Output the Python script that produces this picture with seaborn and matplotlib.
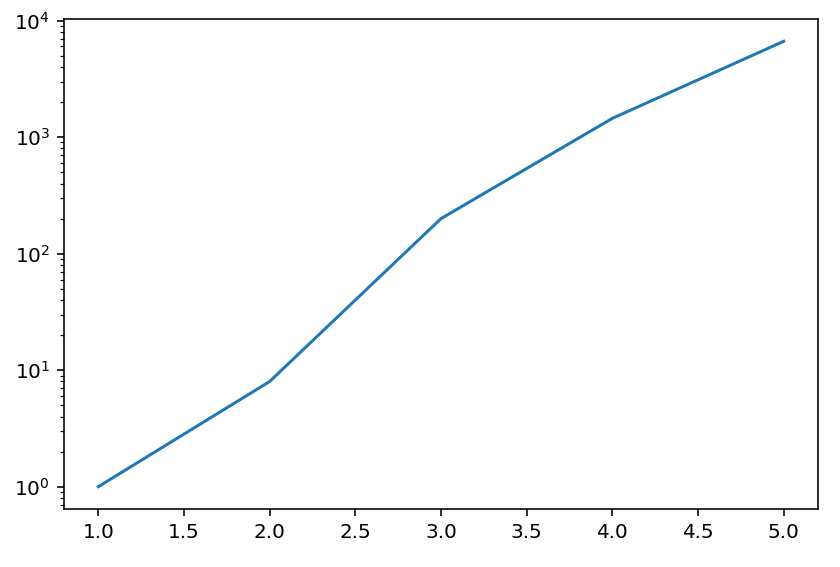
import matplotlib
matplotlib.use("Agg")
import matplotlib.pyplot as plt
import seaborn as sns
import pandas as pd

x_vals = [1, 2, 3, 4, 5]
y_vals = [1, 8, 200, 1450, 6650]

df = pd.DataFrame({"x": x_vals, "y": y_vals})

fig = plt.figure(figsize=(840 / 144, 567 / 144), dpi=144)
ax = fig.add_axes([64 / 840, 1 - 509 / 567, (818 - 64) / 840, (509 - 19) / 567])

sns.lineplot(data=df, x="x", y="y", ax=ax, color="#1f77b4", linewidth=1.5)
ax.set_yscale("log")
ax.set_xlabel("")
ax.set_ylabel("")

fig.savefig("out.png", dpi=144)
